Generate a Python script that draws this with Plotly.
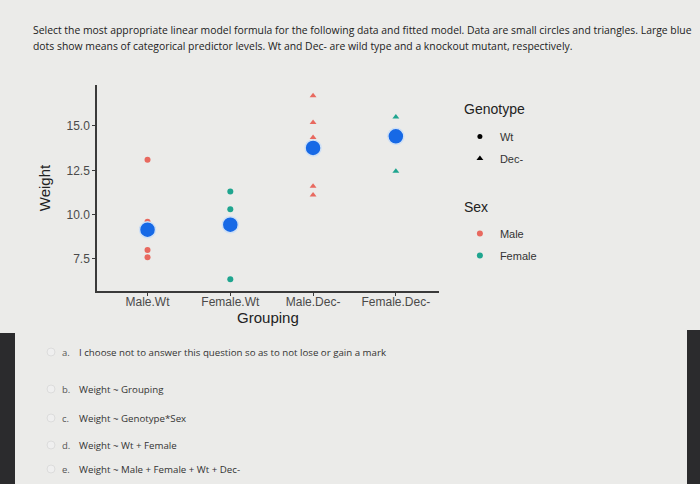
import plotly.graph_objects as go

# groups on the x axis
groups = ["Male.Wt", "Female.Wt", "Male.Dec-", "Female.Dec-"]

male_wt = [13.1, 9.6, 8.0, 7.6]
female_wt = [11.3, 10.3, 6.35]
male_dec = [16.7, 15.2, 14.35, 11.6, 11.1]
female_dec = [15.5, 14.2, 12.45]

# large blue dots (group means)
means = [9.15, 9.43, 13.76, 14.42]

red = "#e8695f"
teal = "#1fa58f"
blue = "#1769e6"

fig = go.Figure()

def add_points(grp, vals, color, symbol):
    fig.add_trace(go.Scatter(x=[grp] * len(vals), y=vals, mode="markers",
                             marker=dict(color=color, size=6, symbol=symbol),
                             showlegend=False, hoverinfo="y"))

add_points(groups[0], male_wt, red, "circle")
add_points(groups[1], female_wt, teal, "circle")
add_points(groups[2], male_dec, red, "triangle-up")
add_points(groups[3], female_dec, teal, "triangle-up")

fig.add_trace(go.Scatter(x=groups, y=means, mode="markers",
                         marker=dict(color=blue, size=16, line=dict(color="#cfe0f5", width=1.5)),
                         showlegend=False))

# legend entries (dummy traces), one group each so the gap can be set
legend_items = [("Wt", "black", "circle", 5, "legend"),
                ("Dec-", "black", "triangle-up", 6, "legend"),
                ("Male", red, "circle", 6, "legend2"),
                ("Female", teal, "circle", 6, "legend2")]
for name, col, sym, sz, lg in legend_items:
    fig.add_trace(go.Scatter(x=[None], y=[None], mode="markers", name=name, legendgroup=name,
                             marker=dict(color=col, size=sz, symbol=sym), legend=lg))

bg = "#ebebe9"
axis_col = "#3a3a3a"

fig.update_layout(
    width=700, height=484,
    margin=dict(l=0, r=0, t=0, b=0),
    paper_bgcolor=bg, plot_bgcolor=bg,
    font=dict(family="Liberation Sans, Arial, sans-serif", color="#333333"),
    xaxis=dict(domain=[0.1386, 0.627], type="category", categoryorder="array",
               categoryarray=groups, range=[-0.61, 3.52],
               showline=True, linecolor=axis_col, linewidth=1.5, showgrid=False,
               ticks="outside", ticklen=3, tickcolor=axis_col, ticklabelstandoff=-4,
               tickfont=dict(size=12, color="#4a4a4a"),
               title=dict(text="Grouping", font=dict(size=15, color="#222"), standoff=0)),
    yaxis=dict(domain=[0.399, 0.824], range=[5.7, 17.3],
               tickvals=[7.5, 10, 12.5, 15], ticktext=["7.5", "10.0", "12.5", "15.0"],
               showline=True, linecolor=axis_col, linewidth=1.5, showgrid=False, zeroline=False,
               ticks="outside", ticklen=3, tickcolor=axis_col,
               tickfont=dict(size=12, color="#4a4a4a"),
               title=dict(text="Weight", font=dict(size=15, color="#222"), standoff=12)),
    legend=dict(x=0.657, y=1 - 122 / 484, xanchor="left", yanchor="top", bgcolor="rgba(0,0,0,0)",
                font=dict(size=11, color="#333"), tracegroupgap=3),
    legend2=dict(x=0.657, y=1 - 219 / 484, xanchor="left", yanchor="top", bgcolor="rgba(0,0,0,0)",
                 font=dict(size=11, color="#333"), tracegroupgap=3),
)

# legend titles
for title, yy in [("Genotype", 109), ("Sex", 207)]:
    fig.add_annotation(x=462 / 700, y=1 - yy / 484, xref="paper", yref="paper", text=title,
                       showarrow=False, xanchor="left", yanchor="middle",
                       font=dict(size=14, color="#222"))

# question text above the chart
question = ["Select the most appropriate linear model formula for the following data and fitted model. Data are small circles and triangles. Large blue",
            "dots show means of categorical predictor levels. Wt and Dec- are wild type and a knockout mutant, respectively."]
for i, line in enumerate(question):
    fig.add_annotation(x=31 / 700, y=1 - (30 + 16 * i) / 484, xref="paper", yref="paper",
                       text=line, showarrow=False, xanchor="left", yanchor="middle",
                       font=dict(family="Open Sans, sans-serif", size=10.4, color="#222"))

# answer options
letters = ["a.", "b.", "c.", "d.", "e."]
options = ["I choose not to answer this question so as to not lose or gain a mark",
           "Weight ~ Grouping",
           "Weight ~ Genotype*Sex",
           "Weight ~ Wt + Female",
           "Weight ~ Male + Female + Wt + Dec-"]
opt_y = [352, 389, 418, 445, 469]
for letter, opt, yy in zip(letters, options, opt_y):
    fig.add_annotation(x=60 / 700, y=1 - yy / 484, xref="paper", yref="paper", text=letter,
                       showarrow=False, xanchor="left", yanchor="middle",
                       font=dict(family="Open Sans, sans-serif", size=9.5, color="#555"))
    fig.add_annotation(x=77 / 700, y=1 - yy / 484, xref="paper", yref="paper", text=opt,
                       showarrow=False, xanchor="left", yanchor="middle",
                       font=dict(family="Open Sans, sans-serif", size=9.7, color="#333"))
    fig.add_shape(type="circle", xref="paper", yref="paper",
                  x0=47 / 700, x1=55 / 700, y0=1 - (yy + 4) / 484, y1=1 - (yy - 4) / 484,
                  line=dict(color="#dcdcdc", width=1), fillcolor="#efefef")

# dark monitor edges from the photo
fig.add_shape(type="rect", xref="paper", yref="paper", x0=0, x1=15 / 700, y0=0, y1=1 - 333 / 484,
              line=dict(width=0), fillcolor="#2b2b2d")
fig.add_shape(type="rect", xref="paper", yref="paper", x0=687 / 700, x1=1, y0=0, y1=1 - 330 / 484,
              line=dict(width=0), fillcolor="#2b2b2d")

fig.write_html("out.html", config={"displayModeBar": False},
               post_script="document.body.style.margin='0px';")
